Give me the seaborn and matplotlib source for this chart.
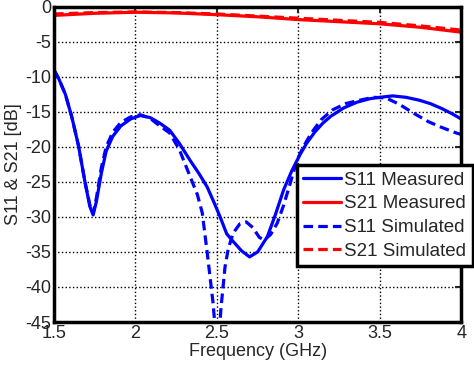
import matplotlib
matplotlib.use("Agg")
import matplotlib.pyplot as plt
import seaborn as sns

# S11 measured
f_s11_meas = [1.50, 1.53, 1.57, 1.61, 1.65, 1.69, 1.72, 1.74, 1.76, 1.79, 1.82, 1.86,
              1.91, 1.97, 2.03, 2.09, 2.15, 2.21, 2.27, 2.335, 2.39, 2.44, 2.48, 2.52,
              2.56, 2.60, 2.65, 2.70, 2.75, 2.81, 2.86, 2.91, 2.96, 3.01, 3.05, 3.10,
              3.15, 3.20, 3.28, 3.36, 3.44, 3.50, 3.58, 3.66, 3.74, 3.81, 3.88, 3.94, 4.00]
s11_meas = [-9.0, -10.3, -12.5, -15.8, -19.8, -25.0, -28.5, -29.7, -27.8, -23.8, -20.6, -18.5,
            -17.0, -16.0, -15.5, -15.8, -16.6, -17.6, -19.5, -21.9, -23.8, -25.7, -27.8, -30.0,
            -32.4, -33.5, -34.8, -35.7, -35.0, -32.8, -29.6, -26.1, -23.4, -21.1, -19.5, -17.9,
            -16.6, -15.6, -14.4, -13.6, -13.1, -12.9, -12.7, -12.9, -13.3, -13.8, -14.5, -15.2, -16.0]

# S11 simulated
f_s11_sim = [1.50, 1.53, 1.57, 1.61, 1.65, 1.69, 1.72, 1.74, 1.76, 1.79, 1.82, 1.86,
             1.91, 1.97, 2.03, 2.09, 2.15, 2.21, 2.27, 2.335, 2.38, 2.41, 2.44, 2.475,
             2.505, 2.525, 2.55, 2.57, 2.60, 2.64, 2.68, 2.72, 2.76, 2.79, 2.83, 2.87,
             2.91, 2.95, 2.99, 3.03, 3.08, 3.14, 3.21, 3.29, 3.38, 3.46, 3.54, 3.62,
             3.71, 3.80, 3.88, 3.97, 4.00]
s11_sim = [-9.0, -10.3, -12.5, -15.8, -19.8, -25.0, -28.3, -29.5, -27.3, -23.0, -20.0, -17.9,
           -16.5, -15.7, -15.4, -15.9, -17.0, -18.0, -20.4, -24.2, -26.8, -29.4, -35.0, -42.0,
           -50.0, -43.0, -37.1, -34.5, -32.3, -31.0, -30.7, -31.5, -32.9, -33.3, -32.5, -30.9,
           -28.3, -25.2, -22.0, -20.0, -18.0, -16.1, -14.7, -13.8, -13.3, -12.9, -13.0, -13.9,
           -15.2, -16.4, -17.2, -18.0, -18.2]

# S21 measured / simulated
f_s21 = [1.50, 1.75, 2.00, 2.25, 2.50, 2.75, 3.00, 3.25, 3.50, 3.75, 4.00]
s21_meas = [-1.2, -0.9, -0.75, -0.85, -1.1, -1.4, -1.8, -2.1, -2.4, -2.9, -3.6]
s21_sim = [-1.0, -0.8, -0.7, -0.8, -1.0, -1.3, -1.6, -1.9, -2.2, -2.7, -3.3]

x_ticks = [1.5, 2, 2.5, 3, 3.5, 4]
x_tick_labels = ["1.5", "2", "2.5", "3", "3.5", "4"]
y_ticks = [0, -5, -10, -15, -20, -25, -30, -35, -40, -45]

sns.set_style("white")
plt.rcParams['font.family'] = ['Liberation Sans', 'DejaVu Sans']
plt.rcParams['axes.unicode_minus'] = False

fig = plt.figure(figsize=(4.74, 3.68), dpi=100)
ax = fig.add_axes([0.114, 0.125, 0.859, 0.856])

lw = 2.3
dash = (0, (3, 1.6))
sns.lineplot(x=f_s11_meas, y=s11_meas, ax=ax, color='#0000ff', lw=lw,
             label='S11 Measured', sort=False)
sns.lineplot(x=f_s21, y=s21_meas, ax=ax, color='#ff0000', lw=lw,
             label='S21 Measured', sort=False)
sns.lineplot(x=f_s11_sim, y=s11_sim, ax=ax, color='#0000ff', lw=lw, linestyle=dash,
             label='S11 Simulated', sort=False)
sns.lineplot(x=f_s21, y=s21_sim, ax=ax, color='#ff0000', lw=lw, linestyle=dash,
             label='S21 Simulated', sort=False)

ax.set_xlim(1.5, 4)
ax.set_ylim(-45, 0)
ax.set_xticks(x_ticks)
ax.set_xticklabels(x_tick_labels)
ax.set_yticks(y_ticks)
ax.set_xlabel('Frequency (GHz)', fontsize=13, labelpad=1)
ax.set_ylabel('S11 & S21 [dB]', fontsize=13, labelpad=2)

ax.grid(True, linestyle=':', color='black', linewidth=1.0)
ax.tick_params(axis='both', which='major', labelsize=13, direction='in',
               length=4, width=1.5, top=True, right=True, pad=2)
for sp in ax.spines.values():
    sp.set_linewidth(2.5)
    sp.set_color('black')

leg = ax.legend(loc='upper right', bbox_to_anchor=(473 / 474, 1 - 165 / 368),
                bbox_transform=fig.transFigure, fontsize=13.5, frameon=True,
                fancybox=False, framealpha=1, edgecolor='black',
                handlelength=2.0, handletextpad=0.2, labelspacing=0.35,
                borderpad=0.35, borderaxespad=0)
leg.get_frame().set_linewidth(2.5)

fig.savefig('out.png', dpi=100)
